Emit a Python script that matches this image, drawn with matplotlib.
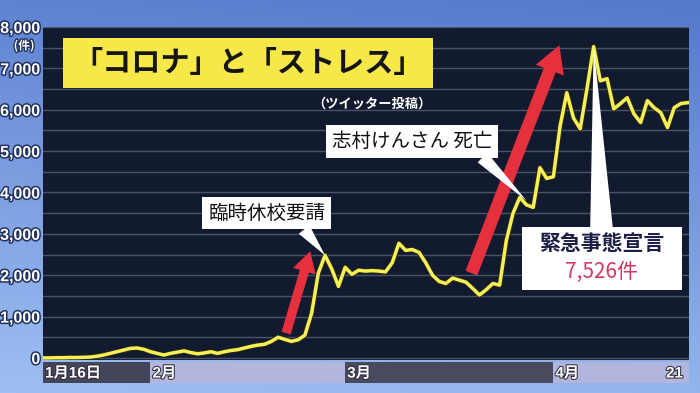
import matplotlib
matplotlib.use("Agg")
import matplotlib.pyplot as plt
import matplotlib.patheffects as pe
from matplotlib.patches import Rectangle
import numpy as np

# daily tweet counts, Jan 16 -> Apr 21
tweets = [0, 0, 5, 5, 10, 10, 15, 20, 40, 70,
          110, 150, 190, 230, 240, 210, 150, 110, 70, 110,
          140, 170, 130, 100, 120, 150, 110, 150, 180, 200,
          240, 280, 310, 330, 400, 500, 450, 400, 440, 550,
          1080, 2050, 2480, 2150, 1730, 2190, 2020, 2120, 2100, 2110,
          2100, 2080, 2300, 2770, 2600, 2620, 2550, 2300, 2000, 1850,
          1800, 1930, 1880, 1830, 1680, 1520, 1650, 1800, 1760, 2840,
          3500, 3880, 3700, 3640, 4600, 4340, 4380, 5600, 6410, 5800,
          5540, 6500, 7526, 6700, 6750, 6020, 6150, 6290, 5900, 5690,
          6220, 6050, 5930, 5570, 6050, 6150, 6170]
days = np.arange(len(tweets))  # days since Jan 16

month_labels = ["1月16日", "2月", "3月", "4月"]
month_start = [0, 16, 45, 76]
month_end = [16, 45, 76, 96.2]
end_label = "21"

y_ticks = list(range(0, 8001, 1000))

NUM_FONT = ["Liberation Sans", "Noto Sans CJK JP"]
JP_FONT = ["Noto Sans CJK JP", "DejaVu Sans"]

fig = plt.figure(figsize=(7, 3.93), dpi=100)

# blue gradient background
bg = fig.add_axes([0, 0, 1, 1], zorder=-10)
gy = np.linspace(0, 1, 200)[:, None]
gx = np.linspace(0, 1, 300)[None, :]
top = np.array([0.33, 0.47, 0.80])
bot = np.array([0.62, 0.75, 0.95])
t = np.clip(gy * 0.85 + (1 - gx) * 0.15, 0, 1)[..., None]
img = top * (1 - t) + bot * t
bg.imshow(img, aspect="auto", extent=[0, 1, 0, 1])
bg.axis("off")

ax = fig.add_axes([43 / 700, 33 / 393, 646 / 700, 333 / 393])
ax.set_facecolor("#111a2e")
ax.set_xlim(0, 96.2)
ax.set_ylim(-50, 8000)
ax.set_yticks(y_ticks)
ax.set_yticklabels([f"{v:,}" for v in y_ticks])
ax.set_yticks(range(500, 8000, 1000), minor=True)
ax.grid(axis="y", which="both", color="#4c5268", lw=1)
ax.set_axisbelow(True)
ax.set_xticks([])
ax.tick_params(axis="y", which="both", length=0, pad=2)
for lbl in ax.get_yticklabels():
    lbl.set_fontfamily(NUM_FONT)
    lbl.set_fontsize(11.5)
    lbl.set_fontweight("bold")
    lbl.set_color("white")
    lbl.set_path_effects([pe.withStroke(linewidth=2.2, foreground="#23335e")])
for s in ax.spines.values():
    s.set_visible(False)

fig.text(24 / 700, 1 - 46 / 393, "(件)", ha="center", va="center", color="white",
         fontsize=8.5, fontweight="bold", family=JP_FONT,
         path_effects=[pe.withStroke(linewidth=2, foreground="#23335e")])

# the tweet line
ax.plot(days, tweets, color="#f6ef55", lw=2.5, solid_joinstyle="round", zorder=3,
        path_effects=[pe.Stroke(linewidth=3.8, foreground="#2a2a18"), pe.Normal()])

# red arrows
red = "#e6303e"
ax.annotate("", xy=(39.8, 2580), xytext=(36.2, 600),
            arrowprops=dict(arrowstyle="simple,head_width=0.85,head_length=0.75,tail_width=0.34",
                            fc=red, ec="none", shrinkA=0, shrinkB=0, mutation_scale=20), zorder=2)
ax.annotate("", xy=(76.9, 7560), xytext=(63.8, 2050),
            arrowprops=dict(arrowstyle="simple,head_width=0.9,head_length=0.8,tail_width=0.38",
                            fc=red, ec="none", shrinkA=0, shrinkB=0, mutation_scale=24), zorder=2)

# callouts
box = dict(boxstyle="square,pad=0.3", fc="white", ec="none")
ax.annotate("臨時休校要請", xy=(42, tweets[42]), xytext=(33.3, 3500),
            ha="center", va="center", fontsize=14, color="#111111", family=JP_FONT,
            bbox=box, zorder=5,
            arrowprops=dict(arrowstyle="wedge,tail_width=0.7", fc="white", ec="none",
                            relpos=(0.78, 0.0), shrinkA=0, shrinkB=0))
ax.annotate("志村けんさん 死亡", xy=(72, 3800), xytext=(55, 5240),
            ha="center", va="center", fontsize=14, color="#111111", family=JP_FONT,
            bbox=box, zorder=5,
            arrowprops=dict(arrowstyle="wedge,tail_width=0.7", fc="white", ec="none",
                            relpos=(0.9, 0.0), shrinkA=0, shrinkB=0))

# state of emergency box: white panel, title line with spike, count line
ax.add_patch(Rectangle((71.4, 1640), 23.7, 1520, fc="white", ec="none", zorder=4))
ax.annotate("緊急事態宣言", xy=(82, tweets[82]), xytext=(83.2, 2760),
            ha="center", va="center", fontsize=15, color="#1b1f45", family=JP_FONT,
            fontweight="bold", zorder=5,
            arrowprops=dict(arrowstyle="wedge,tail_width=1.1", fc="white", ec="none",
                            relpos=(0.5, 1.0), shrinkA=0, shrinkB=0))
ax.text(83.2, 2080, "7,526件", ha="center", va="center", fontsize=15,
        color="#d23a62", family=JP_FONT, zorder=6)

# title
fig.text(248 / 700, 1 - 63 / 393, "「コロナ」と「ストレス」", ha="center", va="center",
         fontsize=21, fontweight="bold", color="#151515", family=JP_FONT,
         bbox=dict(boxstyle="square,pad=0.35", fc="#f7e84a", ec="none"))
fig.text(431 / 700, 1 - 104 / 393, "（ツイッター投稿）", ha="right", va="center",
         fontsize=9.5, fontweight="bold", color="white", family=JP_FONT)

# month band below the chart
bax = fig.add_axes([43 / 700, 10 / 393, 646 / 700, 21 / 393])
bax.set_xlim(0, 96.2)
bax.set_ylim(0, 1)
band_colors = ["#45455a", "#b3b5dc", "#4a4a5e", "#b3b5dc"]
for s0, s1, c, lab in zip(month_start, month_end, band_colors, month_labels):
    bax.axvspan(s0, s1, color=c, lw=0)
    bax.text(s0 + 0.3, 0.45, lab, ha="left", va="center", fontsize=11, fontweight="bold",
             color="white", family=NUM_FONT,
             path_effects=[pe.withStroke(linewidth=1.5, foreground="#303040")])
bax.text(95.3, 0.45, end_label, ha="right", va="center", fontsize=11, fontweight="bold",
         color="white", family=NUM_FONT,
         path_effects=[pe.withStroke(linewidth=1.5, foreground="#303040")])
bax.axis("off")

fig.savefig("out.png", dpi=100)
